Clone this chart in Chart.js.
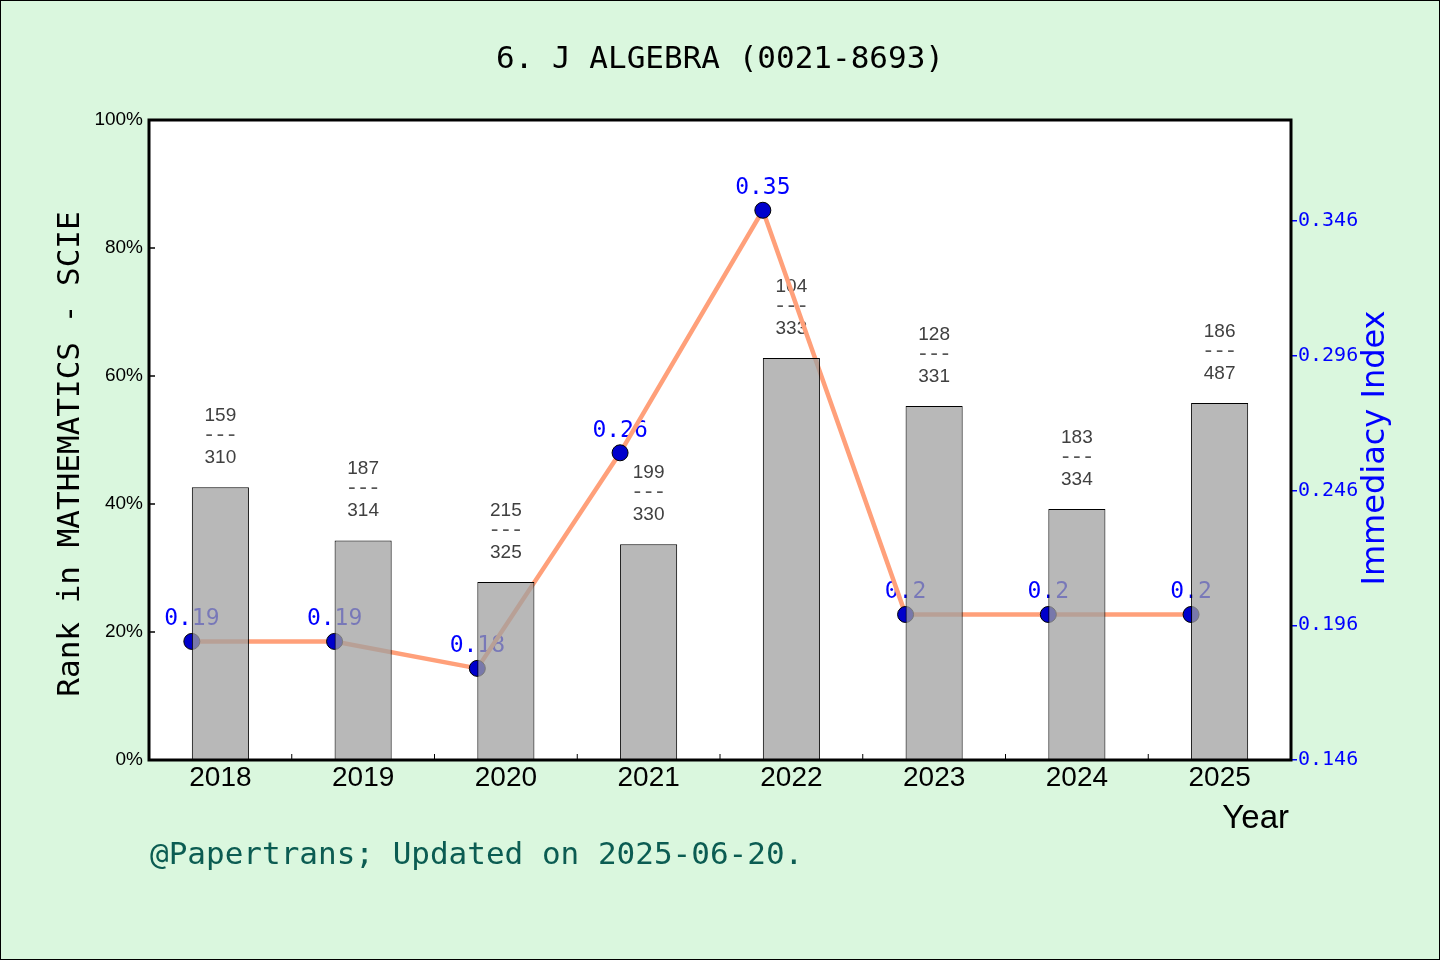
<!DOCTYPE html>
<html>
<head>
<meta charset="utf-8">
<title>J ALGEBRA</title>
<script src="https://cdn.jsdelivr.net/npm/chart.js@4.4.1/dist/chart.umd.min.js"></script>
<style>
  html, body { margin: 0; padding: 0; overflow: hidden; background: #daf7de; }
  canvas { display: block; }
</style>
</head>
<body>
<canvas id="chart" width="1440" height="960"></canvas>
<script>
// values
const years = ['2018', '2019', '2020', '2021', '2022', '2023', '2024', '2025'];
const rankPct = [42.6, 34.3, 27.8, 33.7, 62.8, 55.3, 39.2, 55.8];
const rankPos = [159, 187, 215, 199, 104, 128, 183, 186];
const rankTotal = [310, 314, 325, 330, 333, 331, 334, 487];
const immediacy = [0.19, 0.19, 0.18, 0.26, 0.35, 0.2, 0.2, 0.2];
const leftTicks = [0, 20, 40, 60, 80, 100];
const rightTicks = [0.146, 0.196, 0.246, 0.296, 0.346];

const titleText = '6. J ALGEBRA (0021-8693)';
const footerText = '@Papertrans; Updated on 2025-06-20.';

const mono = '"DejaVu Sans Mono", monospace';
const sans = '"Liberation Sans", Arial, sans-serif';

// line points sit on the left edge of each bar
const linePoints = immediacy.map((v, i) => ({ x: i - 0.2, y: v }));

const deco = {
  id: 'deco',
  beforeDraw(chart) {
    const { ctx, chartArea: a } = chart;
    ctx.save();
    ctx.fillStyle = '#daf7de';
    ctx.fillRect(0, 0, chart.width, chart.height);
    ctx.fillStyle = '#ffffff';
    ctx.fillRect(a.left, a.top, a.right - a.left, a.bottom - a.top);
    ctx.restore();
  },
  beforeDatasetsDraw(chart) {
    const ctx = chart.ctx;
    const bars = chart.getDatasetMeta(0).data;
    const pts = chart.getDatasetMeta(1).data;
    ctx.save();
    ctx.textAlign = 'center';
    ctx.textBaseline = 'alphabetic';

    ctx.fillStyle = '#0000ff';
    ctx.font = '23px ' + mono;
    pts.forEach((p, i) => ctx.fillText(String(immediacy[i]), p.x, p.y - 16));

    bars.forEach((b, i) => {
      ctx.fillStyle = '#404040';
      ctx.font = '19px ' + sans;
      ctx.letterSpacing = '0px';
      ctx.fillText(String(rankPos[i]), b.x, b.y - 66);
      ctx.fillText(String(rankTotal[i]), b.x, b.y - 24);
      ctx.fillStyle = '#555555';
      ctx.font = '22px ' + mono;
      ctx.letterSpacing = '-2px';
      ctx.fillText('---', b.x - 1, b.y - 46);
    });
    ctx.restore();
  },
  afterDraw(chart) {
    const { ctx, chartArea: a, scales } = chart;
    ctx.save();

    // plot frame
    ctx.strokeStyle = '#000';
    ctx.lineWidth = 3;
    ctx.strokeRect(a.left, a.top, a.right - a.left, a.bottom - a.top);

    // inward ticks on the left axis
    ctx.lineWidth = 1.5;
    leftTicks.forEach(v => {
      const y = scales.y.getPixelForValue(v);
      ctx.beginPath();
      ctx.moveTo(a.left, y);
      ctx.lineTo(a.left + 6, y);
      ctx.stroke();
    });

    // small ticks between the year categories
    ctx.lineWidth = 1;
    for (let i = 0; i < years.length - 1; i++) {
      const x = (scales.x.getPixelForValue(i) + scales.x.getPixelForValue(i + 1)) / 2;
      ctx.beginPath();
      ctx.moveTo(x, a.bottom);
      ctx.lineTo(x, a.bottom - 6);
      ctx.stroke();
    }

    // texts
    ctx.fillStyle = '#000';
    ctx.textBaseline = 'alphabetic';
    ctx.textAlign = 'center';
    ctx.font = '31px ' + mono;
    ctx.fillText(titleText, 720, 68);

    ctx.save();
    ctx.translate(79, 454);
    ctx.rotate(-Math.PI / 2);
    ctx.fillText('Rank in MATHEMATICS - SCIE', 0, 0);
    ctx.restore();

    ctx.save();
    ctx.translate(1384, 448);
    ctx.rotate(-Math.PI / 2);
    ctx.fillStyle = '#0000ff';
    ctx.font = '32px "DejaVu Sans", sans-serif';
    ctx.fillText('Immediacy Index', 0, 0);
    ctx.restore();

    ctx.textAlign = 'right';
    ctx.font = '33px ' + sans;
    ctx.fillText('Year', 1289, 828);

    ctx.textAlign = 'left';
    ctx.fillStyle = '#0b5c52';
    ctx.font = '31px ' + mono;
    ctx.fillText(footerText, 150, 864);

    // figure border
    ctx.strokeStyle = '#000';
    ctx.lineWidth = 1;
    ctx.strokeRect(0.5, 0.5, chart.width - 1, chart.height - 1);
    ctx.restore();
  }
};

new Chart(document.getElementById('chart'), {
  data: {
    labels: years,
    datasets: [
      {
        type: 'bar',
        label: 'Rank',
        data: rankPct,
        xAxisID: 'x',
        yAxisID: 'y',
        backgroundColor: 'rgba(160,160,160,0.75)',
        borderColor: '#000',
        borderWidth: 1,
        borderSkipped: false,
        grouped: false,
        barPercentage: 0.4,
        categoryPercentage: 1.0,
        order: 0
      },
      {
        type: 'line',
        label: 'Immediacy Index',
        data: linePoints,
        xAxisID: 'xl',
        yAxisID: 'y2',
        borderColor: 'rgb(255,160,122)',
        borderWidth: 4.5,
        pointRadius: 8,
        pointBackgroundColor: '#0000cc',
        pointBorderColor: '#000',
        pointBorderWidth: 1,
        tension: 0,
        order: 1
      }
    ]
  },
  options: {
    responsive: false,
    devicePixelRatio: 1,
    animation: false,
    layout: { padding: { top: 120, left: 0, right: 0, bottom: 0 } },
    plugins: {
      legend: { display: false },
      tooltip: { enabled: false },
      title: { display: false }
    },
    scales: {
      x: {
        type: 'category',
        offset: true,
        grid: { display: false, drawTicks: false },
        border: { display: false },
        ticks: { color: '#000', font: { family: sans, size: 28 }, padding: 1, maxRotation: 0 },
        afterFit(s) { s.height = 200; }
      },
      xl: {
        type: 'linear',
        display: false,
        min: -0.5,
        max: years.length - 0.5
      },
      y: {
        position: 'left',
        min: 0,
        max: 100,
        grid: { display: false, drawTicks: false },
        border: { display: false },
        afterBuildTicks(s) { s.ticks = leftTicks.map(v => ({ value: v })); },
        ticks: {
          color: '#000',
          font: { family: sans, size: 19 },
          padding: 6,
          callback: v => v + '%'
        },
        afterFit(s) { s.width = 149; }
      },
      y2: {
        position: 'right',
        min: 0.146,
        max: 0.3835,
        grid: {
          display: true,
          drawOnChartArea: false,
          drawTicks: true,
          tickLength: 6,
          color: '#0000ff',
          lineWidth: 1.5
        },
        border: { display: false },
        afterBuildTicks(s) { s.ticks = rightTicks.map(v => ({ value: v })); },
        ticks: {
          color: '#0000ff',
          font: { family: mono, size: 20 },
          padding: 1,
          callback: v => v.toFixed(3)
        },
        afterFit(s) { s.width = 149; }
      }
    }
  },
  plugins: [deco]
});
</script>
</body>
</html>
